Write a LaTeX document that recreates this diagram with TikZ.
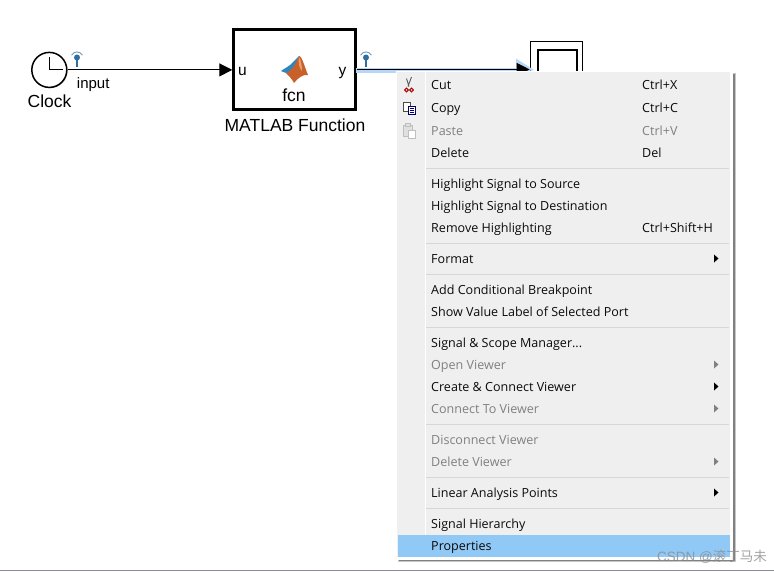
\documentclass[tikz,border=0pt]{standalone}
\usepackage{fontspec}
\setmainfont{Liberation Sans}
\newfontfamily\menufont{Open Sans}
\newfontfamily\cjkfont{Noto Sans CJK SC}
\usetikzlibrary{arrows.meta,shadows,calc}
\definecolor{menubg}{HTML}{EFEFEF}
\definecolor{menusel}{HTML}{90C8F6}
\definecolor{menusep}{HTML}{D7D7D7}
\definecolor{menutxt}{HTML}{0A0A0A}
\definecolor{menudis}{HTML}{808080}
\definecolor{sighl}{HTML}{B9D7F5}
\definecolor{antenna}{HTML}{2F6E9E}
\definecolor{logoor}{HTML}{C8602A}
\definecolor{logolt}{HTML}{E8A070}
\definecolor{logobl}{HTML}{2F86BE}
\definecolor{floorcol}{HTML}{8C8C96}
\newcommand{\threedots}{.{}.{}.}
\tikzset{
  x=1pt,y=-1pt,
  blocklbl/.style={anchor=base,font=\fontsize{17.5}{20}\selectfont,text=black,inner sep=0pt},
  portlbl/.style={anchor=base,font=\fontsize{15.5}{18}\selectfont,text=black,inner sep=0pt},
  menuitem/.style={anchor=base west,inner sep=0pt,font=\menufont\fontsize{12.55}{15}\selectfont,text=menutxt},
  menudisabled/.style={menuitem,text=menudis},
  menukey/.style={menuitem},
  menusepline/.style={draw=menusep,line width=1pt},
  subarrow/.style={fill=black,draw=none},
  subarrowdis/.style={fill=menudis,draw=none},
  sigline/.style={line width=1.1pt,draw=black},
  ant/.pic={
    \fill[antenna] (0,-1.5) circle (3);
    \fill[antenna] (-1.3,-1.5) rectangle (1.3,8);
    \draw[antenna!70,line width=0.9pt] (-5.5,-3.8) .. controls (-3,-8.2) and (3,-8.2) .. (5.5,-3.8);
  }
}
\begin{document}
\begin{tikzpicture}
\useasboundingbox (0,0) rectangle (774,571);
\fill[white] (0,0) rectangle (774,571);
\draw[floorcol,line width=1pt] (0,570.5) -- (774,570.5);

% Clock
\node[circle,draw=black,line width=1.5pt,fill=white,minimum size=35pt,inner sep=0pt,
      general shadow={fill=black!35,shadow xshift=0.8pt,shadow yshift=-0.8pt}] (clock) at (49.3,69.9) {};
\draw[black,line width=1pt] (49.5,57) -- (49.5,69.9) -- (62.5,69.9);
\node[blocklbl] (clocklbl) at (49.5,107.8) {Clock};

% MATLAB block
\node[draw=black,line width=2.4pt,fill=white,minimum width=122pt,minimum height=80pt,inner sep=0pt,
      general shadow={fill=black!40,shadow xshift=1pt,shadow yshift=-1pt}] (fcn) at (294.5,69.5) {};
\node[portlbl] (ulbl) at (242.5,75) {u};
\node[portlbl] (ylbl) at (342.5,75) {y};
\node[blocklbl] (fcnlbl) at (294,101.4) {fcn};
\node[blocklbl] (matlbl) at (295,131.4) {MATLAB Function};
% logo
\fill[logoor] (286,73) .. controls (290,70) and (295,62) .. (299,56) .. controls (302,56) and (305,68) .. (308,75) .. controls (303,74) and (298,78) .. (294,83) .. controls (292,79) and (289,76) .. (286,73) -- cycle;
\fill[logolt] (299,57) .. controls (301,60) and (302,66) .. (302,71) .. controls (299,68) and (298,62) .. (299,57) -- cycle;
\fill[logobl] (281,71) .. controls (285,68) and (288,67) .. (290,65) .. controls (293,62) and (296,59) .. (299,56) .. controls (297,60) and (295,64) .. (293,67) .. controls (291,70) and (288,72) .. (286,73) -- cycle;

% Scope
\node[draw=black,line width=1.6pt,fill=white,minimum width=52pt,minimum height=52pt,inner sep=0pt] (scope) at (556.5,67.5) {};
\node[draw=black,line width=1.4pt,fill=white,minimum width=39pt,minimum height=40pt,inner sep=0pt] (screen) at (557.5,70) {};

% connectors
\coordinate (portu) at (fcn.west |- clock.east);
\draw[sigline,-{Triangle[length=13pt,width=13pt]}] (clock.east) -- (portu);
\coordinate (yout) at (fcn.east |- 0,69.5);
\coordinate (scin) at (scope.west |- 0,69.5);
\fill[sighl] (356,67.5) rectangle (518,73);
\fill[sighl] (516,58.5) -- (534,70) -- (516,73) -- cycle;
\draw[sigline,-{Triangle[length=13pt,width=13pt]}] (yout) -- (scin);

% antennas
\pic at (77,59) {ant};
\pic at (366,59) {ant};
\node[anchor=base,inner sep=0pt,font=\fontsize{15}{18}\selectfont] (inputlbl) at (93.2,88.3) {input};

% Menu
\fill[black!22] (398,73) rectangle (736,562);
\fill[black!50] (399,74) rectangle (735,561);
\node[draw=white,line width=1pt,fill=menubg,anchor=north west,minimum width=336pt,minimum height=488pt,inner sep=0pt] (menu) at (396,71) {};
\fill[white] (424.5,72) rectangle (426,558);
\fill[menusel] (398,535) rectangle (729.5,557);
\fill[white] (729.5,72) rectangle (732.5,559);
\fill[white] (396,557) rectangle (732.5,559);
\foreach \yy in {168.5,243.5,274.5,327.5,424.5,477.5,508.5}
  \draw[menusepline] (426,\yy) -- (729,\yy);
\foreach \t/\yy in {Cut/85,Copy/108,Delete/153,Highlight Signal to Source/184,Highlight Signal to Destination/206,Remove Highlighting/228,Format/259,Add Conditional Breakpoint/290,Show Value Label of Selected Port/312,Signal \& Scope Manager\threedots/343,Create \& Connect Viewer/387,Linear Analysis Points/493,Signal Hierarchy/524,Properties/546}
  \node[menuitem] at (431,\yy+4.3) {\t};
\foreach \t/\yy in {Paste/131,Open Viewer/365,Connect To Viewer/409,Disconnect Viewer/440,Delete Viewer/462}
  \node[menudisabled] at (431,\yy+4.3) {\t};
\node[menukey] at (642,89.3) {Ctrl+X};
\node[menukey] at (642,112.3) {Ctrl+C};
\node[menuitem,text=menudis] at (642,135.3) {Ctrl+V};
\node[menukey] at (642,157.3) {Del};
\node[menukey] at (642,232.3) {Ctrl+Shift+H};
\foreach \yy in {258.5,386.5,492.5}
  \fill[subarrow] (714,\yy-4) -- (718.5,\yy) -- (714,\yy+4) -- cycle;
\foreach \yy in {364.5,408.5,461.5}
  \fill[subarrowdis] (714,\yy-4) -- (718.5,\yy) -- (714,\yy+4) -- cycle;

% icons
\draw[black!65,line width=0.9pt] (406.5,78.5) -- (409,86.5) (411.5,77) -- (408,86.5);
\draw[red!70!black,line width=1pt] (406.5,90) circle (1.9) (411.5,90) circle (1.9);
\draw[black!70,fill=white,line width=0.7pt] (403.5,102) rectangle (410,111);
\draw[blue!40!black,fill=white,line width=0.7pt] (408,106) rectangle (415.5,114.5);
\draw[blue!40!black,line width=0.5pt] (409.5,108.5) -- (414,108.5) (409.5,110.5) -- (414,110.5) (409.5,112.5) -- (414,112.5);
\draw[black!25,fill=black!12,line width=0.7pt] (403,125) rectangle (412,136);
\draw[black!25,fill=white,line width=0.7pt] (408,130) rectangle (415.5,138);
\draw[black!25,fill=black!12,line width=0.7pt] (405.5,123.5) rectangle (410,126);

% watermark
\node[inner sep=0pt,anchor=east,text=black!45,font=\fontsize{13.5}{15}\selectfont,opacity=0.8] (wm) at (767,557) {CSDN @{\cjkfont 滚丁马未}};
\end{tikzpicture}
\end{document}
